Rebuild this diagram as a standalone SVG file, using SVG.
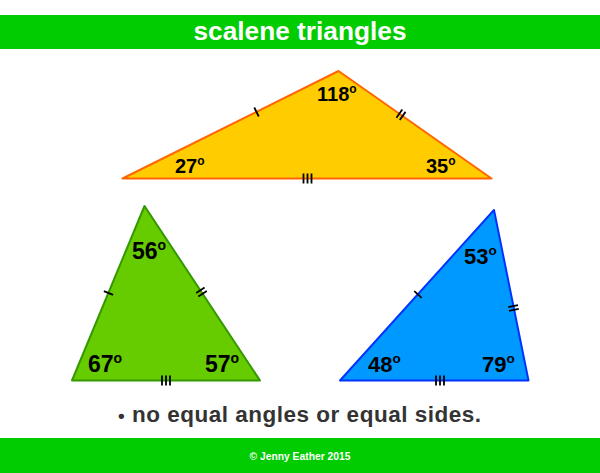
<svg xmlns="http://www.w3.org/2000/svg" width="600" height="473" viewBox="0 0 600 473">
  <style>
    .bar { fill: #00CC00; }
    .title { font-family: "Liberation Sans", Arial, sans-serif; font-weight: bold; fill: #FFFFFF; }
    .ang { font-family: "Liberation Sans", Arial, sans-serif; font-weight: bold; fill: #000000; }
    .tick { stroke: #000000; stroke-width: 1.8; fill: none; }
    .note { font-family: "Liberation Sans", Arial, sans-serif; font-weight: bold; fill: #333333; }
  </style>
  <defs>
    <g id="t1"><line class="tick" x1="0" y1="-5" x2="0" y2="5"/></g>
    <g id="t2"><line class="tick" x1="-2" y1="-5" x2="-2" y2="5"/><line class="tick" x1="2" y1="-5" x2="2" y2="5"/></g>
    <g id="t3"><line class="tick" x1="-4" y1="-5" x2="-4" y2="5"/><line class="tick" x1="0" y1="-5" x2="0" y2="5"/><line class="tick" x1="4" y1="-5" x2="4" y2="5"/></g>
  </defs>
  <rect width="600" height="473" fill="#FFFFFF"/>

  <g id="header">
    <rect class="bar" x="0" y="15" width="600" height="34"/>
    <text class="title" x="300" y="40" font-size="25.5" text-anchor="middle" textLength="213" lengthAdjust="spacingAndGlyphs">scalene triangles</text>
  </g>

  <g id="triangle-top">
    <polygon points="122.5,178.5 338.5,71 491.5,178.5" fill="#FFCC00" stroke="#FF6600" stroke-width="2" stroke-linejoin="round"/>
    <text class="ang" x="317" y="101" font-size="20">118<tspan font-size="12" dy="-7.9">o</tspan></text>
    <text class="ang" x="175" y="173" font-size="20">27<tspan font-size="12" dy="-7.9">o</tspan></text>
    <text class="ang" x="426" y="173" font-size="20">35<tspan font-size="12" dy="-7.9">o</tspan></text>
  </g>

  <g id="triangle-green">
    <polygon points="72,380.5 144.5,206 260,380.5" fill="#66CC00" stroke="#339900" stroke-width="2" stroke-linejoin="round"/>
    <text class="ang" x="132" y="259" font-size="23">56<tspan font-size="14" dy="-9">o</tspan></text>
    <text class="ang" x="88" y="371.5" font-size="23">67<tspan font-size="14" dy="-9">o</tspan></text>
    <text class="ang" x="205" y="371.5" font-size="23">57<tspan font-size="14" dy="-9">o</tspan></text>
  </g>

  <g id="triangle-blue">
    <polygon points="340,380.5 494,210 528.5,380.5" fill="#0099FF" stroke="#0033FF" stroke-width="2" stroke-linejoin="round"/>
    <text class="ang" x="464" y="264" font-size="22">53<tspan font-size="13.5" dy="-8.6">o</tspan></text>
    <text class="ang" x="368" y="371.5" font-size="22">48<tspan font-size="13.5" dy="-8.6">o</tspan></text>
    <text class="ang" x="482" y="371.5" font-size="22">79<tspan font-size="13.5" dy="-8.6">o</tspan></text>
  </g>

  <g id="connectors">
    <use href="#t1" transform="translate(256.5,112) rotate(-26.45)"/>
    <use href="#t2" transform="translate(401,114.8) rotate(35.2)"/>
    <use href="#t3" transform="translate(307.5,178.5)"/>
    <use href="#t1" transform="translate(108.5,293) rotate(-67.4)"/>
    <use href="#t2" transform="translate(201.5,292) rotate(56.7)"/>
    <use href="#t3" transform="translate(166,380.5)"/>
    <use href="#t1" transform="translate(418,294.5) rotate(-48)"/>
    <use href="#t2" transform="translate(513.5,308) rotate(78.75)"/>
    <use href="#t3" transform="translate(440,380.5)"/>
  </g>

  <g id="note">
    <text class="note" x="118" y="421.5" font-size="22.5" textLength="363" lengthAdjust="spacing"><tspan font-size="19">•</tspan> no equal angles or equal sides.</text>
  </g>

  <g id="footer">
    <rect class="bar" x="0" y="438" width="600" height="35"/>
    <text class="title" x="300" y="460" font-size="10.3" text-anchor="middle">© Jenny Eather 2015</text>
  </g>
</svg>
